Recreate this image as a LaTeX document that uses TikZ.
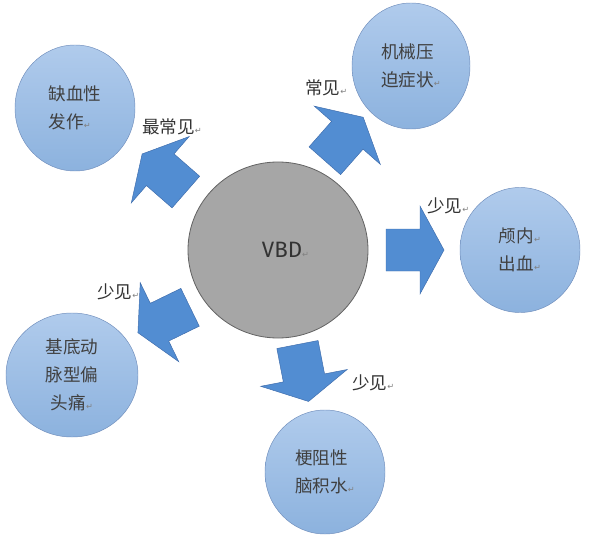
\documentclass[tikz,border=0pt]{standalone}
\usepackage{fontspec}
\setmainfont{Noto Sans CJK SC}
\newfontfamily\markfont{DejaVu Sans}
\newfontfamily\hubfont{Fira Sans}
\usetikzlibrary{shapes.geometric}
\definecolor{ArrowClr}{RGB}{82,141,210}
\definecolor{ArrowLine}{RGB}{62,108,172}
\definecolor{BubbleTop}{RGB}{176,203,236}
\definecolor{BubbleBot}{RGB}{140,178,222}
\definecolor{BubbleLine}{RGB}{112,142,188}
\definecolor{HubClr}{RGB}{166,166,166}
\definecolor{HubLine}{RGB}{100,100,100}

% paragraph mark after each text
\newcommand{\pmark}{{\markfont\fontsize{7}{7}\selectfont\color{gray}↵}}

\tikzset{
  bubble/.style={ellipse,inner sep=0pt,top color=BubbleTop,bottom color=BubbleBot,
    draw=BubbleLine,line width=0.4pt,text=black!75,align=left,
    font=\fontsize{15}{24}\selectfont},
  freq/.style={anchor=west,inner sep=0pt,text=black!80,font=\fontsize{15}{18}\selectfont},
  fatarrow/.pic={
    \filldraw[fill=ArrowClr,draw=ArrowLine,line width=0.4pt,line join=miter]
      (-29,-21) -- (5,-21) -- (5,-44) -- (29,0) -- (5,44) -- (5,21) -- (-29,21) -- cycle;
  }
}

\begin{document}
\begin{tikzpicture}[x=0.03cm,y=-0.03cm]
\useasboundingbox (0,0) rectangle (590,536);

% The centre circle.
\node[ellipse,inner sep=0pt,minimum width=5.4cm,minimum height=5.28cm,
  fill=HubClr,draw=HubLine,line width=0.7pt,font=\hubfont\fontsize{19}{21}\selectfont,
  text=black!80] (hub) at (278,250) {\hspace*{0.45cm}VBD\pmark};

% The five outcomes.
\node[bubble,minimum width=3.6cm,minimum height=3.78cm] (ischemia) at (75,108) {缺血性\\发作\pmark};
\node[bubble,minimum width=3.54cm,minimum height=3.78cm] (compress) at (411,66) {机械压\\迫症状\pmark};
\node[bubble,minimum width=3.6cm,minimum height=3.75cm] (bleed) at (520,250) {颅内\pmark\\出血\pmark};
\node[bubble,align=center,minimum width=3.96cm,minimum height=3.72cm] (migraine) at (72,375) {基底动\\脉型偏\\头痛\pmark};
\node[bubble,minimum width=3.6cm,minimum height=3.72cm] (hydro) at (325,472) {梗阻性\\脑积水\pmark};

% Block arrows from the centre.
\pic[rotate=138.9] at (164,173) {fatarrow};
\pic[rotate=48.6] at (344,139) {fatarrow};
\pic at (415,250) {fatarrow};
\pic[rotate=206] at (164,320) {fatarrow};
\pic[rotate=-79] at (303,373) {fatarrow};

% How often.
\node[freq] (oftenA) at (142,127) {最常见\pmark};
\node[freq] (oftenB) at (305,88) {常见\pmark};
\node[freq] (rareC) at (427,206) {少见\pmark};
\node[freq] (rareD) at (97,292) {少见\pmark};
\node[freq] (rareE) at (352,383) {少见\pmark};

\end{tikzpicture}
\end{document}
